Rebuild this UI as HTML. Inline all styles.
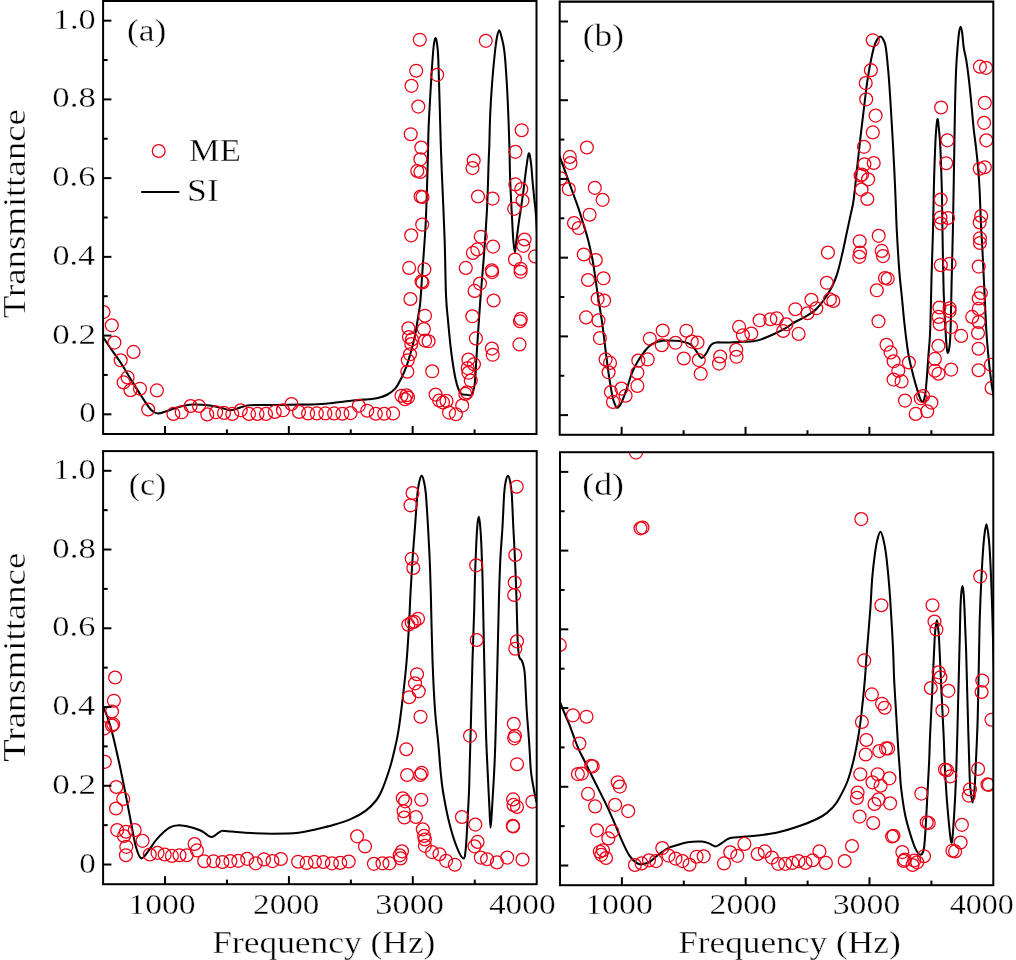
<!DOCTYPE html><html><head><meta charset="utf-8"><title>Transmittance</title><style>html,body{margin:0;padding:0;background:#fff;}svg{display:block;}text{font-family:"Liberation Serif","DejaVu Serif",serif;fill:#000;stroke:#fff;stroke-width:0.35px;}</style></head><body>
<svg width="1016" height="960" viewBox="0 0 1016 960">
<rect x="0" y="0" width="1016" height="960" fill="#fff"/>
<rect x="558.7" y="0" width="435.6" height="1" fill="#999"/>
<defs>
<clipPath id="cpa"><rect x="103.1" y="1" width="433.4" height="433"/></clipPath>
<clipPath id="cpb"><rect x="559.7" y="1.8" width="433.6" height="433"/></clipPath>
<clipPath id="cpc"><rect x="103.1" y="451.1" width="433.6" height="433.1"/></clipPath>
<clipPath id="cpd"><rect x="560" y="452.2" width="433.3" height="433"/></clipPath>
</defs>
<g clip-path="url(#cpa)">
<path d="M103,337C104.17,338.75 107.05,343.22 110,347.5C112.95,351.78 117.12,357.22 120.7,362.7C124.28,368.18 128.07,374.85 131.5,380.4C134.93,385.95 138.02,391.07 141.3,396C144.58,400.93 148.42,407.08 151.2,410C153.98,412.92 155.37,413.33 158,413.5C160.63,413.67 163.55,412.08 167,411C170.45,409.92 174.45,408.07 178.7,407C182.95,405.93 187.28,404.83 192.5,404.6C197.72,404.37 205.08,405.03 210,405.6C214.92,406.17 218.5,407.22 222,408C225.5,408.78 227.72,410.47 231,410.3C234.28,410.13 238.6,407.85 241.7,407C244.8,406.15 244.88,405.53 249.6,405.2C254.32,404.87 263.27,405.08 270,405C276.73,404.92 281.42,404.87 290,404.7C298.58,404.53 311,404.7 321.5,404C332,403.3 345.13,401.3 353,400.5C360.87,399.7 364.53,399.62 368.7,399.2C372.87,398.78 374.85,398.78 378,398C381.15,397.22 384.68,396.13 387.6,394.5C390.52,392.87 393.13,391.08 395.5,388.2C397.87,385.32 399.97,380.88 401.8,377.2C403.63,373.52 404.92,370.57 406.5,366.1C408.08,361.63 409.85,355.65 411.3,350.4C412.75,345.15 414.03,340.38 415.2,334.6C416.37,328.82 417.45,321.13 418.3,315.7C419.15,310.27 419.6,309.58 420.3,302C421,294.42 421.6,283.37 422.5,270.2C423.4,257.03 424.83,240.53 425.7,223C426.57,205.47 427.23,180.47 427.7,165C428.17,149.53 428.1,141.25 428.5,130.2C428.9,119.15 429.52,109.2 430.1,98.7C430.68,88.2 431.42,75.82 432,67.2C432.58,58.58 433.03,51.85 433.6,47C434.17,42.15 434.8,38.43 435.4,38.1C436,37.77 436.72,41.45 437.2,45C437.68,48.55 437.92,50.45 438.3,59.4C438.68,68.35 439.12,85.58 439.5,98.7C439.88,111.82 440.23,126.28 440.6,138.1C440.97,149.92 441.03,152.83 441.7,169.6C442.37,186.37 443.88,217.8 444.6,238.7C445.32,259.6 445.42,281.23 446,295C446.58,308.77 447.22,311.72 448.1,321.3C448.98,330.88 450,342.62 451.3,352.5C452.6,362.38 454.35,373.83 455.9,380.6C457.45,387.37 458.77,390.75 460.6,393.1C462.43,395.45 465.07,394.43 466.9,394.7C468.73,394.97 470.3,396.52 471.6,394.7C472.9,392.88 473.92,389.53 474.7,383.8C475.48,378.07 475.78,368.12 476.3,360.3C476.82,352.48 477.28,344.72 477.8,336.9C478.32,329.08 478.9,320.57 479.4,313.4C479.9,306.23 480.03,303.72 480.8,293.9C481.57,284.08 482.95,268.95 484,254.5C485.05,240.05 486.32,222.95 487.1,207.2C487.88,191.45 488.33,170.2 488.7,160C489.07,149.8 489.05,153.58 489.3,146C489.55,138.42 489.73,125 490.2,114.5C490.67,104 491.3,93.5 492.1,83C492.9,72.5 494.18,59.17 495,51.5C495.82,43.83 496.3,40.55 497,37C497.7,33.45 498.45,30.2 499.2,30.2C499.95,30.2 500.63,33.45 501.5,37C502.37,40.55 503.52,43.83 504.4,51.5C505.28,59.17 506.15,72.5 506.8,83C507.45,93.5 507.87,104 508.3,114.5C508.73,125 509.08,134.98 509.4,146C509.72,157.02 509.73,168.07 510.2,180.6C510.67,193.13 511.68,211.3 512.2,221.2C512.72,231.1 512.85,234.8 513.3,240C513.75,245.2 514.37,252.4 514.9,252.4C515.43,252.4 515.82,245.2 516.5,240C517.18,234.8 517.92,228.83 519,221.2C520.08,213.57 521.77,203.22 523,194.2C524.23,185.18 525.43,173.92 526.4,167.1C527.37,160.28 528.03,153.98 528.8,153.3C529.57,152.62 530.38,158.45 531,163C531.62,167.55 531.92,174.28 532.5,180.6C533.08,186.92 533.93,195.25 534.5,200.9C535.07,206.55 535.4,207.98 535.9,214.5C536.4,221.02 537.23,235.75 537.5,240" fill="none" stroke="#000" stroke-width="2.05" stroke-linejoin="round" stroke-linecap="round"/>
<g fill="none" stroke="#ec0016" stroke-width="1.25">
<circle cx="103.5" cy="312.1" r="6.45"/>
<circle cx="111.8" cy="325.3" r="6.45"/>
<circle cx="114.4" cy="342.6" r="6.45"/>
<circle cx="133.5" cy="351.9" r="6.45"/>
<circle cx="120.7" cy="360.3" r="6.45"/>
<circle cx="127.6" cy="377.4" r="6.45"/>
<circle cx="123.6" cy="382.4" r="6.45"/>
<circle cx="130.5" cy="390.2" r="6.45"/>
<circle cx="140" cy="388.7" r="6.45"/>
<circle cx="156.9" cy="390.4" r="6.45"/>
<circle cx="148.2" cy="409.5" r="6.45"/>
<circle cx="173.4" cy="413.9" r="6.45"/>
<circle cx="181.7" cy="412.3" r="6.45"/>
<circle cx="190.6" cy="406" r="6.45"/>
<circle cx="199" cy="406" r="6.45"/>
<circle cx="207.3" cy="414.4" r="6.45"/>
<circle cx="216.1" cy="412.3" r="6.45"/>
<circle cx="224" cy="412.9" r="6.45"/>
<circle cx="232.3" cy="413.9" r="6.45"/>
<circle cx="240.7" cy="410.3" r="6.45"/>
<circle cx="249" cy="413.9" r="6.45"/>
<circle cx="257.5" cy="413.9" r="6.45"/>
<circle cx="266" cy="413.9" r="6.45"/>
<circle cx="274.8" cy="411.9" r="6.45"/>
<circle cx="283" cy="410.3" r="6.45"/>
<circle cx="291.5" cy="404" r="6.45"/>
<circle cx="299" cy="411.9" r="6.45"/>
<circle cx="308.1" cy="413.4" r="6.45"/>
<circle cx="316.8" cy="413.4" r="6.45"/>
<circle cx="325.4" cy="413.4" r="6.45"/>
<circle cx="334.1" cy="413.4" r="6.45"/>
<circle cx="342.4" cy="413.7" r="6.45"/>
<circle cx="350.6" cy="413.1" r="6.45"/>
<circle cx="358.8" cy="405.8" r="6.45"/>
<circle cx="367.2" cy="410.7" r="6.45"/>
<circle cx="375.8" cy="413.7" r="6.45"/>
<circle cx="384.2" cy="413.7" r="6.45"/>
<circle cx="393.1" cy="413.4" r="6.45"/>
<circle cx="401.5" cy="395.7" r="6.45"/>
<circle cx="406.5" cy="395.3" r="6.45"/>
<circle cx="405" cy="399.2" r="6.45"/>
<circle cx="408" cy="397.5" r="6.45"/>
<circle cx="407.3" cy="371.7" r="6.45"/>
<circle cx="407.8" cy="360.3" r="6.45"/>
<circle cx="410" cy="354.3" r="6.45"/>
<circle cx="411.3" cy="344.1" r="6.45"/>
<circle cx="412" cy="339.4" r="6.45"/>
<circle cx="408.9" cy="337" r="6.45"/>
<circle cx="408.4" cy="328.3" r="6.45"/>
<circle cx="410.4" cy="299" r="6.45"/>
<circle cx="425" cy="315.7" r="6.45"/>
<circle cx="423.9" cy="329.1" r="6.45"/>
<circle cx="425.1" cy="340.6" r="6.45"/>
<circle cx="428.6" cy="341.3" r="6.45"/>
<circle cx="432.2" cy="371.3" r="6.45"/>
<circle cx="435.6" cy="394.6" r="6.45"/>
<circle cx="439.2" cy="400.5" r="6.45"/>
<circle cx="443" cy="402.4" r="6.45"/>
<circle cx="446.5" cy="400.9" r="6.45"/>
<circle cx="449" cy="412.6" r="6.45"/>
<circle cx="455.9" cy="414.2" r="6.45"/>
<circle cx="462.2" cy="405.6" r="6.45"/>
<circle cx="465.3" cy="393.9" r="6.45"/>
<circle cx="466.9" cy="392.3" r="6.45"/>
<circle cx="470.8" cy="380.6" r="6.45"/>
<circle cx="468.4" cy="372.8" r="6.45"/>
<circle cx="467.7" cy="368.1" r="6.45"/>
<circle cx="473.9" cy="364.2" r="6.45"/>
<circle cx="468.4" cy="359.5" r="6.45"/>
<circle cx="475.9" cy="338.4" r="6.45"/>
<circle cx="472.3" cy="316.3" r="6.45"/>
<circle cx="474.6" cy="290.9" r="6.45"/>
<circle cx="493.6" cy="300.5" r="6.45"/>
<circle cx="491.9" cy="348.6" r="6.45"/>
<circle cx="492.7" cy="354.8" r="6.45"/>
<circle cx="520.8" cy="318.9" r="6.45"/>
<circle cx="520" cy="321.2" r="6.45"/>
<circle cx="519.5" cy="344.4" r="6.45"/>
<circle cx="420.4" cy="159.3" r="6.45"/>
<circle cx="417.3" cy="171" r="6.45"/>
<circle cx="420.4" cy="172" r="6.45"/>
<circle cx="420.6" cy="196.5" r="6.45"/>
<circle cx="422.5" cy="197" r="6.45"/>
<circle cx="422.2" cy="224.6" r="6.45"/>
<circle cx="411.2" cy="235.3" r="6.45"/>
<circle cx="409.1" cy="267.9" r="6.45"/>
<circle cx="424.4" cy="269.4" r="6.45"/>
<circle cx="422.5" cy="282.5" r="6.45"/>
<circle cx="421.5" cy="281.5" r="6.45"/>
<circle cx="473.7" cy="160.6" r="6.45"/>
<circle cx="472.5" cy="168.1" r="6.45"/>
<circle cx="478" cy="196.5" r="6.45"/>
<circle cx="492.6" cy="198.6" r="6.45"/>
<circle cx="480.8" cy="236.7" r="6.45"/>
<circle cx="477.3" cy="249.4" r="6.45"/>
<circle cx="472.9" cy="252.9" r="6.45"/>
<circle cx="493.1" cy="246.6" r="6.45"/>
<circle cx="465.8" cy="267.9" r="6.45"/>
<circle cx="491.8" cy="270.2" r="6.45"/>
<circle cx="492.1" cy="272.1" r="6.45"/>
<circle cx="480" cy="283.6" r="6.45"/>
<circle cx="515.4" cy="184.4" r="6.45"/>
<circle cx="521.3" cy="189.1" r="6.45"/>
<circle cx="522.5" cy="200.6" r="6.45"/>
<circle cx="514.2" cy="208.8" r="6.45"/>
<circle cx="524.6" cy="239.5" r="6.45"/>
<circle cx="523.3" cy="245.8" r="6.45"/>
<circle cx="535.1" cy="256.4" r="6.45"/>
<circle cx="515" cy="259.5" r="6.45"/>
<circle cx="520.6" cy="268.7" r="6.45"/>
<circle cx="520.6" cy="271.8" r="6.45"/>
<circle cx="419.8" cy="39.7" r="6.45"/>
<circle cx="416.2" cy="70.7" r="6.45"/>
<circle cx="411.5" cy="85.8" r="6.45"/>
<circle cx="437.2" cy="74.8" r="6.45"/>
<circle cx="418.3" cy="106.6" r="6.45"/>
<circle cx="410.7" cy="134.2" r="6.45"/>
<circle cx="421.3" cy="147.6" r="6.45"/>
<circle cx="485.8" cy="40.8" r="6.45"/>
<circle cx="521.7" cy="130.2" r="6.45"/>
<circle cx="515.4" cy="151.8" r="6.45"/>
</g>
</g>
<g stroke="#000" stroke-width="2" fill="none">
<line x1="103.1" y1="414.32" x2="111.4" y2="414.32"/>
<line x1="103.1" y1="374.95" x2="107.7" y2="374.95"/>
<line x1="103.1" y1="335.59" x2="111.4" y2="335.59"/>
<line x1="103.1" y1="296.23" x2="107.7" y2="296.23"/>
<line x1="103.1" y1="256.86" x2="111.4" y2="256.86"/>
<line x1="103.1" y1="217.5" x2="107.7" y2="217.5"/>
<line x1="103.1" y1="178.14" x2="111.4" y2="178.14"/>
<line x1="103.1" y1="138.77" x2="107.7" y2="138.77"/>
<line x1="103.1" y1="99.41" x2="111.4" y2="99.41"/>
<line x1="103.1" y1="60.05" x2="107.7" y2="60.05"/>
<line x1="103.1" y1="20.68" x2="111.4" y2="20.68"/>
<line x1="165.01" y1="434" x2="165.01" y2="426"/>
<line x1="226.93" y1="434" x2="226.93" y2="429.4"/>
<line x1="288.84" y1="434" x2="288.84" y2="426"/>
<line x1="350.76" y1="434" x2="350.76" y2="429.4"/>
<line x1="412.67" y1="434" x2="412.67" y2="426"/>
<line x1="474.59" y1="434" x2="474.59" y2="429.4"/>
<rect x="103.1" y="1" width="433.4" height="433" stroke-width="2.0"/>
</g>
<g clip-path="url(#cpb)">
<path d="M558.5,153C559.65,156.2 563.22,166.13 565.4,172.2C567.58,178.27 569.52,183.67 571.6,189.4C573.68,195.13 575.95,200.87 577.9,206.6C579.85,212.33 581.62,218.33 583.3,223.8C584.98,229.27 586.52,233.7 588,239.4C589.48,245.1 591.12,252.57 592.2,258C593.28,263.43 593.53,265.58 594.5,272C595.47,278.42 596.72,287.98 598,296.5C599.28,305.02 600.95,314.25 602.2,323.1C603.45,331.95 604.37,340.75 605.5,349.6C606.63,358.45 607.82,368.3 609,376.2C610.18,384.1 611.57,392.17 612.6,397C613.63,401.83 614.47,403.4 615.2,405.2C615.93,407 616.37,407.58 617,407.8C617.63,408.02 618.25,407.35 619,406.5C619.75,405.65 620.2,405.68 621.5,402.7C622.8,399.72 625.03,393.6 626.8,388.6C628.57,383.6 630.33,377.13 632.1,372.7C633.87,368.27 635.33,365.55 637.4,362C639.47,358.45 642.13,354.35 644.5,351.4C646.87,348.45 648.65,346.07 651.6,344.3C654.55,342.53 658.13,341.38 662.2,340.8C666.27,340.22 672.57,340.63 676,340.8C679.43,340.97 680.38,341.2 682.8,341.8C685.22,342.4 688.37,343.02 690.5,344.4C692.63,345.78 693.8,347.87 695.6,350.1C697.4,352.33 699.6,357.15 701.3,357.8C703,358.45 704.18,356.13 705.8,354C707.42,351.87 709.28,346.92 711,345C712.72,343.08 713.33,342.92 716.1,342.5C718.87,342.08 723.33,342.62 727.6,342.5C731.87,342.38 737.43,342.02 741.7,341.8C745.97,341.58 750.22,341.52 753.2,341.2C756.18,340.88 756.4,340.97 759.6,339.9C762.8,338.83 768.13,336.72 772.4,334.8C776.67,332.88 781.43,330.53 785.2,328.4C788.97,326.27 791.95,323.78 795,322C798.05,320.22 799.82,319.98 803.5,317.7C807.18,315.42 812.58,313.03 817.1,308.3C821.62,303.57 827.22,295.17 830.6,289.3C833.98,283.43 835.37,279.42 837.4,273.1C839.43,266.78 841.23,258.17 842.8,251.4C844.37,244.63 845.45,238.82 846.8,232.5C848.15,226.18 849.77,218.92 850.9,213.5C852.03,208.08 852.6,207.27 853.6,200C854.6,192.73 855.73,180.53 856.9,169.9C858.07,159.27 859.35,147.13 860.6,136.2C861.85,125.27 863.15,114.3 864.4,104.3C865.65,94.3 866.55,85.57 868.1,76.2C869.65,66.83 872.13,54.3 873.7,48.1C875.27,41.9 876.33,40.93 877.5,39C878.67,37.07 879.7,36.33 880.7,36.5C881.7,36.67 882.63,38.07 883.5,40C884.37,41.93 885.03,42.07 885.9,48.1C886.77,54.13 887.92,66.83 888.7,76.2C889.48,85.57 889.97,94.3 890.6,104.3C891.23,114.3 891.88,125.27 892.5,136.2C893.12,147.13 893.78,159.28 894.3,169.9C894.82,180.52 895.18,189.78 895.6,199.9C896.02,210.02 896.18,218.72 896.8,230.6C897.42,242.48 898.43,259.92 899.3,271.2C900.17,282.48 901.12,289.33 902,298.3C902.88,307.27 903.55,315.78 904.6,325C905.65,334.22 906.88,345.28 908.3,353.6C909.72,361.92 911.52,368.6 913.1,374.9C914.68,381.2 916.33,386.88 917.8,391.4C919.27,395.92 920.72,401.22 921.9,402C923.08,402.78 924.1,399.83 924.9,396.1C925.7,392.37 926.12,386.28 926.7,379.6C927.28,372.92 927.82,364.27 928.4,356C928.98,347.73 929.65,344.13 930.2,330C930.75,315.87 931.23,287.87 931.7,271.2C932.17,254.53 932.65,243.53 933,230C933.35,216.47 933.53,201.18 933.8,190C934.07,178.82 934.27,172.07 934.6,162.9C934.93,153.73 935.32,142.3 935.8,135C936.28,127.7 936.97,119.93 937.5,119.1C938.03,118.27 938.52,125.13 939,130C939.48,134.87 939.92,137.97 940.4,148.3C940.88,158.63 941.58,180.05 941.9,192C942.22,203.95 942,203.18 942.3,220C942.6,236.82 943.1,273.47 943.7,292.9C944.3,312.33 945.22,326.58 945.9,336.6C946.58,346.62 947.07,353 947.8,353C948.53,353 949.65,349.05 950.3,336.6C950.95,324.15 951.25,296.9 951.7,278.3C952.15,259.7 952.52,249.72 953,225C953.48,200.28 954.22,151.68 954.6,130C954.98,108.32 955.03,105.27 955.3,94.9C955.57,84.53 955.82,75.72 956.2,67.8C956.58,59.88 957.13,53.2 957.6,47.4C958.07,41.6 958.5,36.43 959,33C959.5,29.57 960.07,26.8 960.6,26.8C961.13,26.8 961.68,29.57 962.2,33C962.72,36.43 963,42.73 963.7,47.4C964.4,52.07 965.5,55.35 966.4,61C967.3,66.65 968.2,73.4 969.1,81.3C970,89.2 971.02,100.28 971.8,108.4C972.58,116.52 973.08,123.35 973.8,130C974.52,136.65 975.35,141.62 976.1,148.3C976.85,154.98 977.7,162.82 978.3,170.1C978.9,177.38 979.25,182.85 979.7,192C980.15,201.15 980.55,215.47 981,225C981.45,234.53 981.82,237.88 982.4,249.2C982.98,260.52 983.82,278.93 984.5,292.9C985.18,306.87 985.8,321.9 986.5,333C987.2,344.1 987.95,351.73 988.7,359.5C989.45,367.27 990.28,374.02 991,379.6C991.72,385.18 992.33,388.77 993,393C993.67,397.23 994.67,403 995,405" fill="none" stroke="#000" stroke-width="2.05" stroke-linejoin="round" stroke-linecap="round"/>
<g fill="none" stroke="#ec0016" stroke-width="1.25">
<circle cx="586.9" cy="147.5" r="6.45"/>
<circle cx="569.8" cy="156.9" r="6.45"/>
<circle cx="570.5" cy="163.1" r="6.45"/>
<circle cx="560.7" cy="178.4" r="6.45"/>
<circle cx="568.8" cy="189.1" r="6.45"/>
<circle cx="594.8" cy="187.8" r="6.45"/>
<circle cx="602.6" cy="199.8" r="6.45"/>
<circle cx="589.6" cy="214.7" r="6.45"/>
<circle cx="574" cy="223" r="6.45"/>
<circle cx="578.7" cy="228.1" r="6.45"/>
<circle cx="583.8" cy="254.5" r="6.45"/>
<circle cx="595.8" cy="260" r="6.45"/>
<circle cx="588" cy="280" r="6.45"/>
<circle cx="603.5" cy="278.3" r="6.45"/>
<circle cx="597.6" cy="298.8" r="6.45"/>
<circle cx="604.1" cy="300.6" r="6.45"/>
<circle cx="586.1" cy="317.4" r="6.45"/>
<circle cx="598.5" cy="320.4" r="6.45"/>
<circle cx="599.9" cy="338.1" r="6.45"/>
<circle cx="605.6" cy="359.4" r="6.45"/>
<circle cx="610" cy="362.9" r="6.45"/>
<circle cx="608.6" cy="372.3" r="6.45"/>
<circle cx="610.9" cy="392.1" r="6.45"/>
<circle cx="613" cy="401.9" r="6.45"/>
<circle cx="621.5" cy="388.6" r="6.45"/>
<circle cx="625.6" cy="395.7" r="6.45"/>
<circle cx="637.4" cy="372.7" r="6.45"/>
<circle cx="638.3" cy="360.6" r="6.45"/>
<circle cx="637.4" cy="385.9" r="6.45"/>
<circle cx="647.7" cy="359.4" r="6.45"/>
<circle cx="649.8" cy="338.7" r="6.45"/>
<circle cx="661.8" cy="345.2" r="6.45"/>
<circle cx="662.7" cy="330.5" r="6.45"/>
<circle cx="675.5" cy="342.8" r="6.45"/>
<circle cx="686.4" cy="330.7" r="6.45"/>
<circle cx="691.8" cy="341.6" r="6.45"/>
<circle cx="697.5" cy="342.5" r="6.45"/>
<circle cx="683.8" cy="358.5" r="6.45"/>
<circle cx="698.8" cy="360.1" r="6.45"/>
<circle cx="700.7" cy="373.8" r="6.45"/>
<circle cx="720.2" cy="356.5" r="6.45"/>
<circle cx="719" cy="363.6" r="6.45"/>
<circle cx="739.1" cy="326.9" r="6.45"/>
<circle cx="742.9" cy="335.2" r="6.45"/>
<circle cx="751.3" cy="333.5" r="6.45"/>
<circle cx="736.2" cy="349.8" r="6.45"/>
<circle cx="736.5" cy="356.8" r="6.45"/>
<circle cx="759.6" cy="320.3" r="6.45"/>
<circle cx="770.4" cy="319.2" r="6.45"/>
<circle cx="776.8" cy="318.4" r="6.45"/>
<circle cx="786.4" cy="324.3" r="6.45"/>
<circle cx="783.2" cy="331" r="6.45"/>
<circle cx="795.4" cy="309.2" r="6.45"/>
<circle cx="798.6" cy="333.9" r="6.45"/>
<circle cx="867.3" cy="199" r="6.45"/>
<circle cx="827.9" cy="252.5" r="6.45"/>
<circle cx="826.8" cy="282.8" r="6.45"/>
<circle cx="811.4" cy="299.8" r="6.45"/>
<circle cx="807.6" cy="313.2" r="6.45"/>
<circle cx="816.3" cy="308.3" r="6.45"/>
<circle cx="829.9" cy="299.4" r="6.45"/>
<circle cx="833.3" cy="301" r="6.45"/>
<circle cx="859.7" cy="241.2" r="6.45"/>
<circle cx="860.1" cy="252.5" r="6.45"/>
<circle cx="859.3" cy="256.8" r="6.45"/>
<circle cx="876.8" cy="290.3" r="6.45"/>
<circle cx="878.5" cy="321.3" r="6.45"/>
<circle cx="872.8" cy="40.2" r="6.45"/>
<circle cx="870.9" cy="70.2" r="6.45"/>
<circle cx="865.7" cy="83.1" r="6.45"/>
<circle cx="866.2" cy="99.3" r="6.45"/>
<circle cx="875.6" cy="115.6" r="6.45"/>
<circle cx="872.8" cy="132.4" r="6.45"/>
<circle cx="864" cy="146.8" r="6.45"/>
<circle cx="864.4" cy="164.3" r="6.45"/>
<circle cx="873.7" cy="163" r="6.45"/>
<circle cx="860.6" cy="175.5" r="6.45"/>
<circle cx="862.1" cy="174.6" r="6.45"/>
<circle cx="868.1" cy="179.3" r="6.45"/>
<circle cx="861.5" cy="189.6" r="6.45"/>
<circle cx="878.7" cy="235.8" r="6.45"/>
<circle cx="881.7" cy="250.9" r="6.45"/>
<circle cx="883" cy="256.1" r="6.45"/>
<circle cx="885" cy="278" r="6.45"/>
<circle cx="887.7" cy="278.7" r="6.45"/>
<circle cx="941.1" cy="107.5" r="6.45"/>
<circle cx="947.4" cy="140.3" r="6.45"/>
<circle cx="946.2" cy="163.2" r="6.45"/>
<circle cx="940.7" cy="199.6" r="6.45"/>
<circle cx="940.5" cy="217.5" r="6.45"/>
<circle cx="948" cy="218" r="6.45"/>
<circle cx="941" cy="223.5" r="6.45"/>
<circle cx="979.9" cy="66.7" r="6.45"/>
<circle cx="986" cy="67.8" r="6.45"/>
<circle cx="984.8" cy="102.8" r="6.45"/>
<circle cx="984.1" cy="122.8" r="6.45"/>
<circle cx="986.3" cy="140.3" r="6.45"/>
<circle cx="979.7" cy="168.7" r="6.45"/>
<circle cx="984.8" cy="167.2" r="6.45"/>
<circle cx="981.2" cy="216" r="6.45"/>
<circle cx="979.7" cy="222.5" r="6.45"/>
<circle cx="979.9" cy="238.2" r="6.45"/>
<circle cx="979.9" cy="243" r="6.45"/>
<circle cx="940.8" cy="265.2" r="6.45"/>
<circle cx="949.6" cy="263.7" r="6.45"/>
<circle cx="978.7" cy="266.6" r="6.45"/>
<circle cx="939.4" cy="307.5" r="6.45"/>
<circle cx="949.6" cy="308.2" r="6.45"/>
<circle cx="949.6" cy="311.1" r="6.45"/>
<circle cx="938.6" cy="316.9" r="6.45"/>
<circle cx="939.7" cy="324.2" r="6.45"/>
<circle cx="951" cy="327.1" r="6.45"/>
<circle cx="961.2" cy="335.9" r="6.45"/>
<circle cx="938.4" cy="345.8" r="6.45"/>
<circle cx="980.9" cy="292.9" r="6.45"/>
<circle cx="978.7" cy="298.4" r="6.45"/>
<circle cx="978.7" cy="308.9" r="6.45"/>
<circle cx="972.2" cy="316.9" r="6.45"/>
<circle cx="978.7" cy="322" r="6.45"/>
<circle cx="978" cy="333" r="6.45"/>
<circle cx="978.5" cy="348.7" r="6.45"/>
<circle cx="886.5" cy="344.8" r="6.45"/>
<circle cx="890.6" cy="352.4" r="6.45"/>
<circle cx="893.6" cy="361.3" r="6.45"/>
<circle cx="908.9" cy="362.5" r="6.45"/>
<circle cx="898.3" cy="370.7" r="6.45"/>
<circle cx="893.6" cy="379.6" r="6.45"/>
<circle cx="901.6" cy="381.4" r="6.45"/>
<circle cx="905" cy="400.6" r="6.45"/>
<circle cx="920.7" cy="398.3" r="6.45"/>
<circle cx="923.1" cy="396.1" r="6.45"/>
<circle cx="931.4" cy="402.6" r="6.45"/>
<circle cx="927.2" cy="411.3" r="6.45"/>
<circle cx="915.7" cy="413.9" r="6.45"/>
<circle cx="934.9" cy="358.9" r="6.45"/>
<circle cx="934.9" cy="370.7" r="6.45"/>
<circle cx="938.5" cy="373.7" r="6.45"/>
<circle cx="951.2" cy="369.6" r="6.45"/>
<circle cx="978.6" cy="370.2" r="6.45"/>
<circle cx="991" cy="364.8" r="6.45"/>
<circle cx="991.6" cy="387.9" r="6.45"/>
</g>
</g>
<g stroke="#000" stroke-width="2" fill="none">
<line x1="559.7" y1="415.12" x2="568" y2="415.12"/>
<line x1="559.7" y1="375.75" x2="564.3" y2="375.75"/>
<line x1="559.7" y1="336.39" x2="568" y2="336.39"/>
<line x1="559.7" y1="297.03" x2="564.3" y2="297.03"/>
<line x1="559.7" y1="257.66" x2="568" y2="257.66"/>
<line x1="559.7" y1="218.3" x2="564.3" y2="218.3"/>
<line x1="559.7" y1="178.94" x2="568" y2="178.94"/>
<line x1="559.7" y1="139.57" x2="564.3" y2="139.57"/>
<line x1="559.7" y1="100.21" x2="568" y2="100.21"/>
<line x1="559.7" y1="60.85" x2="564.3" y2="60.85"/>
<line x1="559.7" y1="21.48" x2="568" y2="21.48"/>
<line x1="621.64" y1="434.8" x2="621.64" y2="426.8"/>
<line x1="683.59" y1="434.8" x2="683.59" y2="430.2"/>
<line x1="745.53" y1="434.8" x2="745.53" y2="426.8"/>
<line x1="807.47" y1="434.8" x2="807.47" y2="430.2"/>
<line x1="869.41" y1="434.8" x2="869.41" y2="426.8"/>
<line x1="931.36" y1="434.8" x2="931.36" y2="430.2"/>
<rect x="559.7" y="1.8" width="433.6" height="433" stroke-width="2.0"/>
</g>
<g clip-path="url(#cpc)">
<path d="M102.5,705C103.25,706.83 105.42,711.52 107,716C108.58,720.48 109.97,724.07 112,731.9C114.03,739.73 117.02,753.03 119.2,763C121.38,772.97 123.12,781.72 125.1,791.7C127.08,801.68 129.3,813.72 131.1,822.9C132.9,832.08 134.22,840.9 135.9,846.8C137.58,852.7 139.2,857.5 141.2,858.3C143.2,859.1 145.18,854.92 147.9,851.6C150.62,848.28 153.9,842.38 157.5,838.4C161.1,834.42 165.92,829.88 169.5,827.7C173.08,825.52 175.42,825.37 179,825.3C182.58,825.23 187.4,826.43 191,827.3C194.6,828.17 198.18,829.45 200.6,830.5C203.02,831.55 204.1,832.65 205.5,833.6C206.9,834.55 208,835.63 209,836.2C210,836.77 210.67,837 211.5,837C212.33,837 213,836.78 214,836.2C215,835.62 216.33,834.32 217.5,833.5C218.67,832.68 219.75,831.73 221,831.3C222.25,830.87 220.93,830.65 225,830.9C229.07,831.15 237.57,832.33 245.4,832.8C253.23,833.27 263.13,833.7 272,833.7C280.87,833.7 291.22,833.55 298.6,832.8C305.98,832.05 310.4,830.53 316.3,829.2C322.2,827.87 328.1,826.57 334,824.8C339.9,823.03 346.38,820.97 351.7,818.6C357.02,816.23 361.77,813.7 365.9,810.6C370.03,807.5 373.82,803.43 376.5,800C379.18,796.57 379.88,795 382,790C384.12,785 387.32,775.83 389.2,770C391.08,764.17 391.78,761.38 393.3,755C394.82,748.62 396.63,741.98 398.3,731.7C399.97,721.42 401.9,705.25 403.3,693.3C404.7,681.35 405.75,671.38 406.7,660C407.65,648.62 408.37,636.12 409,625C409.63,613.88 409.92,604.13 410.5,593.3C411.08,582.47 411.75,571.1 412.5,560C413.25,548.9 414.17,537.82 415,526.7C415.83,515.58 416.75,500.92 417.5,493.3C418.25,485.68 418.8,483.92 419.5,481C420.2,478.08 420.98,475.8 421.7,475.8C422.42,475.8 423.12,478.08 423.8,481C424.48,483.92 425.1,485.68 425.8,493.3C426.5,500.92 427.35,515.58 428,526.7C428.65,537.82 429.23,548.9 429.7,560C430.17,571.1 430.33,576.63 430.8,593.3C431.27,609.97 431.8,640.55 432.5,660C433.2,679.45 434.03,696.12 435,710C435.97,723.88 437.38,733.3 438.3,743.3C439.22,753.3 439.72,761.97 440.5,770C441.28,778.03 441.53,782.67 443,791.5C444.47,800.33 446.93,813.55 449.3,823C451.67,832.45 454.83,842.3 457.2,848.2C459.57,854.1 462.07,858.4 463.5,858.4C464.93,858.4 465.15,854.1 465.8,848.2C466.45,842.3 466.87,832.45 467.4,823C467.93,813.55 468.63,800.33 469,791.5C469.37,782.67 469.3,780.8 469.6,770C469.9,759.2 470.32,745.03 470.8,726.7C471.28,708.37 471.93,679.45 472.5,660C473.07,640.55 473.78,623.88 474.2,610C474.62,596.12 474.65,587.82 475,576.7C475.35,565.58 475.88,552.08 476.3,543.3C476.72,534.52 477.08,528.43 477.5,524C477.92,519.57 478.38,516.7 478.8,516.7C479.22,516.7 479.58,519.57 480,524C480.42,528.43 480.88,534.52 481.3,543.3C481.72,552.08 482.17,564.75 482.5,576.7C482.83,588.65 483.02,601.12 483.3,615C483.58,628.88 483.78,641.38 484.2,660C484.62,678.62 485.32,710.03 485.8,726.7C486.28,743.37 486.5,746.58 487.1,760C487.7,773.42 488.82,795.92 489.4,807.2C489.98,818.48 490.15,827.7 490.6,827.7C491.05,827.7 491.45,817.65 492.1,807.2C492.75,796.75 493.88,778.42 494.5,765C495.12,751.58 495.3,744.2 495.8,726.7C496.3,709.2 496.98,681.12 497.5,660C498.02,638.88 498.43,616.67 498.9,600C499.37,583.33 499.7,572.22 500.3,560C500.9,547.78 501.85,537.82 502.5,526.7C503.15,515.58 503.65,500.92 504.2,493.3C504.75,485.68 505.17,483.92 505.8,481C506.43,478.08 507.3,475.8 508,475.8C508.7,475.8 509.38,478.08 510,481C510.62,483.92 511.15,485.68 511.7,493.3C512.25,500.92 512.75,515.58 513.3,526.7C513.85,537.82 514.5,548.9 515,560C515.5,571.1 515.93,582.47 516.3,593.3C516.67,604.13 516.95,616.67 517.2,625C517.45,633.33 517.47,638.02 517.8,643.3C518.13,648.58 518.5,653.75 519.2,656.7C519.9,659.65 521.23,659.28 522,661C522.77,662.72 523.3,664.38 523.8,667C524.3,669.62 524.52,669.53 525,676.7C525.48,683.87 526,698.9 526.7,710C527.4,721.1 528.52,733.3 529.2,743.3C529.88,753.3 530.2,763.28 530.8,770C531.4,776.72 531.95,778.7 532.8,783.6C533.65,788.5 535.03,795.67 535.9,799.4C536.77,803.13 537.65,804.9 538,806" fill="none" stroke="#000" stroke-width="2.05" stroke-linejoin="round" stroke-linecap="round"/>
<g fill="none" stroke="#ec0016" stroke-width="1.25">
<circle cx="115.1" cy="677.5" r="6.45"/>
<circle cx="113.9" cy="700.7" r="6.45"/>
<circle cx="112" cy="711.5" r="6.45"/>
<circle cx="113.2" cy="724.2" r="6.45"/>
<circle cx="112" cy="725.5" r="6.45"/>
<circle cx="104.3" cy="728.3" r="6.45"/>
<circle cx="104.8" cy="761.8" r="6.45"/>
<circle cx="116.3" cy="787" r="6.45"/>
<circle cx="123.2" cy="798.9" r="6.45"/>
<circle cx="116" cy="808.5" r="6.45"/>
<circle cx="117.2" cy="830.1" r="6.45"/>
<circle cx="125.9" cy="831.7" r="6.45"/>
<circle cx="124" cy="836" r="6.45"/>
<circle cx="134.7" cy="830.1" r="6.45"/>
<circle cx="126.3" cy="846.8" r="6.45"/>
<circle cx="125.9" cy="855.2" r="6.45"/>
<circle cx="142.6" cy="840.8" r="6.45"/>
<circle cx="149.8" cy="854.5" r="6.45"/>
<circle cx="157.5" cy="852.8" r="6.45"/>
<circle cx="164.7" cy="854.5" r="6.45"/>
<circle cx="171.9" cy="855.9" r="6.45"/>
<circle cx="179.5" cy="855.2" r="6.45"/>
<circle cx="186.7" cy="855.2" r="6.45"/>
<circle cx="194.6" cy="844" r="6.45"/>
<circle cx="197" cy="850.4" r="6.45"/>
<circle cx="204.2" cy="861.2" r="6.45"/>
<circle cx="213.5" cy="861.2" r="6.45"/>
<circle cx="222.4" cy="862" r="6.45"/>
<circle cx="230.4" cy="861.1" r="6.45"/>
<circle cx="238.3" cy="860.8" r="6.45"/>
<circle cx="247.2" cy="858.8" r="6.45"/>
<circle cx="255.7" cy="863.3" r="6.45"/>
<circle cx="264" cy="859.4" r="6.45"/>
<circle cx="272.5" cy="861.1" r="6.45"/>
<circle cx="280.9" cy="859" r="6.45"/>
<circle cx="298.1" cy="861.7" r="6.45"/>
<circle cx="306.6" cy="862.9" r="6.45"/>
<circle cx="314.9" cy="861.7" r="6.45"/>
<circle cx="323.4" cy="862" r="6.45"/>
<circle cx="331.9" cy="863.3" r="6.45"/>
<circle cx="340.2" cy="862.9" r="6.45"/>
<circle cx="348.7" cy="861.5" r="6.45"/>
<circle cx="357.1" cy="836.3" r="6.45"/>
<circle cx="365" cy="846.4" r="6.45"/>
<circle cx="373.9" cy="863.8" r="6.45"/>
<circle cx="382.5" cy="863.3" r="6.45"/>
<circle cx="389.5" cy="863.3" r="6.45"/>
<circle cx="399.7" cy="855.3" r="6.45"/>
<circle cx="402" cy="851.3" r="6.45"/>
<circle cx="400.5" cy="858.4" r="6.45"/>
<circle cx="407.1" cy="775" r="6.45"/>
<circle cx="420.2" cy="775" r="6.45"/>
<circle cx="421.7" cy="772.9" r="6.45"/>
<circle cx="402.8" cy="798.3" r="6.45"/>
<circle cx="405.2" cy="801.3" r="6.45"/>
<circle cx="421.3" cy="799.7" r="6.45"/>
<circle cx="403.6" cy="811.2" r="6.45"/>
<circle cx="404.4" cy="817.5" r="6.45"/>
<circle cx="415.9" cy="817" r="6.45"/>
<circle cx="422.8" cy="829.3" r="6.45"/>
<circle cx="424.1" cy="835.9" r="6.45"/>
<circle cx="424.9" cy="839.5" r="6.45"/>
<circle cx="424.9" cy="845.8" r="6.45"/>
<circle cx="432" cy="852.1" r="6.45"/>
<circle cx="439.5" cy="854.2" r="6.45"/>
<circle cx="446.1" cy="860.8" r="6.45"/>
<circle cx="454.8" cy="864.7" r="6.45"/>
<circle cx="461.9" cy="817" r="6.45"/>
<circle cx="475.3" cy="824.6" r="6.45"/>
<circle cx="477.6" cy="841.9" r="6.45"/>
<circle cx="474.5" cy="846.3" r="6.45"/>
<circle cx="480.8" cy="857.6" r="6.45"/>
<circle cx="487.1" cy="859.2" r="6.45"/>
<circle cx="496.9" cy="862.4" r="6.45"/>
<circle cx="507.2" cy="857.6" r="6.45"/>
<circle cx="522.5" cy="859.5" r="6.45"/>
<circle cx="517" cy="764.2" r="6.45"/>
<circle cx="513.1" cy="799.4" r="6.45"/>
<circle cx="513.5" cy="804.9" r="6.45"/>
<circle cx="517" cy="806.9" r="6.45"/>
<circle cx="532.4" cy="801.7" r="6.45"/>
<circle cx="512.8" cy="825.8" r="6.45"/>
<circle cx="513.2" cy="826.5" r="6.45"/>
<circle cx="412.5" cy="493" r="6.45"/>
<circle cx="410.5" cy="505.3" r="6.45"/>
<circle cx="411.7" cy="558.7" r="6.45"/>
<circle cx="413.3" cy="568" r="6.45"/>
<circle cx="516.7" cy="486.7" r="6.45"/>
<circle cx="515.3" cy="555" r="6.45"/>
<circle cx="514.7" cy="582.5" r="6.45"/>
<circle cx="514.2" cy="595" r="6.45"/>
<circle cx="476.2" cy="565.3" r="6.45"/>
<circle cx="408.3" cy="624.7" r="6.45"/>
<circle cx="411.7" cy="622.5" r="6.45"/>
<circle cx="418" cy="618.7" r="6.45"/>
<circle cx="414.2" cy="621.7" r="6.45"/>
<circle cx="417" cy="674.2" r="6.45"/>
<circle cx="415" cy="683.3" r="6.45"/>
<circle cx="418.7" cy="691.3" r="6.45"/>
<circle cx="409.2" cy="697.2" r="6.45"/>
<circle cx="420.5" cy="716.7" r="6.45"/>
<circle cx="406.3" cy="749.2" r="6.45"/>
<circle cx="476.7" cy="640" r="6.45"/>
<circle cx="470" cy="735.8" r="6.45"/>
<circle cx="517" cy="641.3" r="6.45"/>
<circle cx="515.3" cy="648.7" r="6.45"/>
<circle cx="513.8" cy="723.8" r="6.45"/>
<circle cx="515" cy="735.8" r="6.45"/>
<circle cx="514.2" cy="738.3" r="6.45"/>
</g>
</g>
<g stroke="#000" stroke-width="2" fill="none">
<line x1="103.1" y1="864.51" x2="111.4" y2="864.51"/>
<line x1="103.1" y1="825.14" x2="107.7" y2="825.14"/>
<line x1="103.1" y1="785.77" x2="111.4" y2="785.77"/>
<line x1="103.1" y1="746.4" x2="107.7" y2="746.4"/>
<line x1="103.1" y1="707.02" x2="111.4" y2="707.02"/>
<line x1="103.1" y1="667.65" x2="107.7" y2="667.65"/>
<line x1="103.1" y1="628.28" x2="111.4" y2="628.28"/>
<line x1="103.1" y1="588.9" x2="107.7" y2="588.9"/>
<line x1="103.1" y1="549.53" x2="111.4" y2="549.53"/>
<line x1="103.1" y1="510.16" x2="107.7" y2="510.16"/>
<line x1="103.1" y1="470.79" x2="111.4" y2="470.79"/>
<line x1="165.04" y1="884.2" x2="165.04" y2="876.2"/>
<line x1="226.99" y1="884.2" x2="226.99" y2="879.6"/>
<line x1="288.93" y1="884.2" x2="288.93" y2="876.2"/>
<line x1="350.87" y1="884.2" x2="350.87" y2="879.6"/>
<line x1="412.81" y1="884.2" x2="412.81" y2="876.2"/>
<line x1="474.76" y1="884.2" x2="474.76" y2="879.6"/>
<rect x="103.1" y="451.1" width="433.6" height="433.1" stroke-width="2.0"/>
</g>
<g clip-path="url(#cpd)">
<path d="M559,699.5C559.83,701.58 562.25,707.78 564,712C565.75,716.22 567.67,720.13 569.5,724.8C571.33,729.47 573.35,735.65 575,740C576.65,744.35 577.9,747.57 579.4,750.9C580.9,754.23 582.68,757.38 584,760C585.32,762.62 585.2,762.38 587.3,766.6C589.4,770.82 593.48,779.05 596.6,785.3C599.72,791.55 603.13,798.1 606,804.1C608.87,810.1 611.2,815.32 613.8,821.3C616.4,827.28 619,834.28 621.6,840C624.2,845.72 626.78,851.7 629.4,855.6C632.02,859.5 635.2,861.97 637.3,863.4C639.4,864.83 639.92,864.45 642,864.2C644.08,863.95 646.95,863.58 649.8,861.9C652.65,860.22 655.98,856.45 659.1,854.1C662.22,851.75 665.68,849.23 668.5,847.8C671.32,846.37 672.8,846.43 676,845.5C679.2,844.57 683.38,842.85 687.7,842.2C692.02,841.55 698.35,841.4 701.9,841.6C705.45,841.8 706.7,842.6 709,843.4C711.3,844.2 713.63,846.4 715.7,846.4C717.77,846.4 718.98,844.78 721.4,843.4C723.82,842.02 725.48,839.28 730.2,838.1C734.92,836.92 742.02,837.18 749.7,836.3C757.38,835.42 767.43,834.72 776.3,832.8C785.17,830.88 795.22,827.6 802.9,824.8C810.58,822 817.38,818.95 822.4,816C827.42,813.05 830.37,809.77 833,807.1C835.63,804.43 835.78,804.31 838.2,800C840.62,795.69 844.91,788.02 847.5,781.25C850.09,774.48 851.93,766.96 853.75,759.4C855.57,751.84 857.09,743.72 858.4,735.9C859.71,728.08 860.55,721.6 861.6,712.5C862.65,703.4 863.8,691.72 864.7,681.3C865.6,670.88 866.07,661.98 867,650C867.93,638.02 869.43,621.38 870.3,609.4C871.17,597.42 871.45,587.22 872.2,578.1C872.95,568.98 873.95,561.05 874.8,554.7C875.65,548.35 876.35,543.82 877.3,540C878.25,536.18 879.47,531.8 880.5,531.8C881.53,531.8 882.57,536.18 883.5,540C884.43,543.82 885.15,547.05 886.1,554.7C887.05,562.35 888.33,575.48 889.2,585.9C890.07,596.32 890.65,606.52 891.3,617.2C891.95,627.88 892.62,639.43 893.1,650C893.58,660.57 893.68,669.85 894.2,680.6C894.72,691.35 895.53,703.2 896.2,714.5C896.87,725.8 897.6,739.15 898.2,748.4C898.8,757.65 899.33,763.55 899.8,770C900.27,776.45 900.13,779.73 901,787.1C901.87,794.47 903.43,806.3 905,814.2C906.57,822.1 908.6,828.63 910.4,834.5C912.2,840.37 914.1,846.02 915.8,849.4C917.5,852.78 919.23,855.03 920.6,854.8C921.97,854.57 923.1,853.63 924,848C924.9,842.37 925.37,831.15 926,821C926.63,810.85 927.27,797.27 927.8,787.1C928.33,776.93 928.82,768.72 929.2,760C929.58,751.28 929.62,745.77 930.1,734.8C930.58,723.83 931.35,710 932.1,694.2C932.85,678.4 934,651.2 934.6,640C935.2,628.8 935.32,630.28 935.7,627C936.08,623.72 936.52,620.3 936.9,620.3C937.28,620.3 937.63,623.72 938,627C938.37,630.28 938.5,628.8 939.1,640C939.7,651.2 940.85,678.4 941.6,694.2C942.35,710 943.03,722.17 943.6,734.8C944.17,747.43 944.35,757.88 945,770C945.65,782.12 946.45,795.42 947.5,807.5C948.55,819.58 950.25,840.42 951.3,842.5C952.35,844.58 952.97,832.08 953.8,820C954.63,807.92 955.58,789.58 956.3,770C957.02,750.42 957.53,724.17 958.1,702.5C958.67,680.83 959.32,655.52 959.7,640C960.08,624.48 960.13,617.23 960.4,609.4C960.67,601.57 960.95,596.92 961.3,593C961.65,589.08 962.12,585.9 962.5,585.9C962.88,585.9 963.27,589.08 963.6,593C963.93,596.92 964.08,599.9 964.5,609.4C964.92,618.9 965.6,634.48 966.1,650C966.6,665.52 966.92,681.67 967.5,702.5C968.08,723.33 969.08,760.42 969.6,775C970.12,789.58 970.12,785.42 970.6,790C971.08,794.58 971.85,802.5 972.5,802.5C973.15,802.5 973.92,797.08 974.5,790C975.08,782.92 975.47,771.98 976,760C976.53,748.02 977.18,736.43 977.7,718.1C978.22,699.77 978.75,666.82 979.1,650C979.45,633.18 979.42,629.18 979.8,617.2C980.18,605.22 980.82,589.82 981.4,578.1C981.98,566.38 982.73,554.58 983.3,546.9C983.87,539.22 984.28,535.78 984.8,532C985.32,528.22 985.87,524.2 986.4,524.2C986.93,524.2 987.48,528.22 988,532C988.52,535.78 988.98,539.22 989.5,546.9C990.02,554.58 990.65,567.68 991.1,578.1C991.55,588.52 991.83,597.42 992.2,609.4C992.57,621.38 992.92,636.57 993.3,650C993.68,663.43 994.3,683.33 994.5,690" fill="none" stroke="#000" stroke-width="2.05" stroke-linejoin="round" stroke-linecap="round"/>
<g fill="none" stroke="#ec0016" stroke-width="1.25">
<circle cx="636" cy="452.6" r="6.45"/>
<circle cx="640.5" cy="528.3" r="6.45"/>
<circle cx="642.5" cy="527.6" r="6.45"/>
<circle cx="559.8" cy="644.9" r="6.45"/>
<circle cx="572.9" cy="715.3" r="6.45"/>
<circle cx="586.5" cy="716.7" r="6.45"/>
<circle cx="579.4" cy="743.5" r="6.45"/>
<circle cx="591.2" cy="765.8" r="6.45"/>
<circle cx="592.7" cy="766.3" r="6.45"/>
<circle cx="577.9" cy="774.1" r="6.45"/>
<circle cx="581.8" cy="773.6" r="6.45"/>
<circle cx="617.7" cy="782.2" r="6.45"/>
<circle cx="619.8" cy="786.6" r="6.45"/>
<circle cx="588" cy="793.9" r="6.45"/>
<circle cx="595.1" cy="806.4" r="6.45"/>
<circle cx="615.1" cy="804.8" r="6.45"/>
<circle cx="628.2" cy="811.1" r="6.45"/>
<circle cx="597" cy="830.3" r="6.45"/>
<circle cx="612.3" cy="831.4" r="6.45"/>
<circle cx="608.3" cy="838.4" r="6.45"/>
<circle cx="599.8" cy="851.7" r="6.45"/>
<circle cx="602.9" cy="850.2" r="6.45"/>
<circle cx="606" cy="858" r="6.45"/>
<circle cx="601.3" cy="854.8" r="6.45"/>
<circle cx="634.9" cy="865" r="6.45"/>
<circle cx="641.6" cy="863.4" r="6.45"/>
<circle cx="649" cy="860.3" r="6.45"/>
<circle cx="656" cy="861.1" r="6.45"/>
<circle cx="662.3" cy="848.1" r="6.45"/>
<circle cx="668.5" cy="855.6" r="6.45"/>
<circle cx="675.5" cy="858.6" r="6.45"/>
<circle cx="682.4" cy="861.1" r="6.45"/>
<circle cx="689.5" cy="864.7" r="6.45"/>
<circle cx="696.6" cy="856.7" r="6.45"/>
<circle cx="703.7" cy="856.3" r="6.45"/>
<circle cx="724" cy="863.4" r="6.45"/>
<circle cx="730.2" cy="852.3" r="6.45"/>
<circle cx="737.3" cy="855.8" r="6.45"/>
<circle cx="744.4" cy="843.9" r="6.45"/>
<circle cx="757.7" cy="854" r="6.45"/>
<circle cx="764.8" cy="851.4" r="6.45"/>
<circle cx="771.9" cy="857.6" r="6.45"/>
<circle cx="778.1" cy="863.8" r="6.45"/>
<circle cx="785.2" cy="863.8" r="6.45"/>
<circle cx="792.3" cy="862.9" r="6.45"/>
<circle cx="798.5" cy="861.1" r="6.45"/>
<circle cx="805.5" cy="862.9" r="6.45"/>
<circle cx="812.6" cy="860.2" r="6.45"/>
<circle cx="819.4" cy="851.4" r="6.45"/>
<circle cx="825.9" cy="862.9" r="6.45"/>
<circle cx="844.7" cy="861" r="6.45"/>
<circle cx="852" cy="846" r="6.45"/>
<circle cx="860.3" cy="774.2" r="6.45"/>
<circle cx="877.7" cy="774.2" r="6.45"/>
<circle cx="872.5" cy="782.3" r="6.45"/>
<circle cx="880.6" cy="785.7" r="6.45"/>
<circle cx="889.4" cy="778.3" r="6.45"/>
<circle cx="857.6" cy="792.5" r="6.45"/>
<circle cx="856.9" cy="797.9" r="6.45"/>
<circle cx="878.6" cy="799.3" r="6.45"/>
<circle cx="874.5" cy="804" r="6.45"/>
<circle cx="890.1" cy="803.3" r="6.45"/>
<circle cx="859.6" cy="816.6" r="6.45"/>
<circle cx="873.2" cy="823" r="6.45"/>
<circle cx="892.1" cy="836.5" r="6.45"/>
<circle cx="893.5" cy="835.8" r="6.45"/>
<circle cx="921.3" cy="793.6" r="6.45"/>
<circle cx="926.7" cy="822.3" r="6.45"/>
<circle cx="928.7" cy="823" r="6.45"/>
<circle cx="902.3" cy="852.1" r="6.45"/>
<circle cx="904.7" cy="859.6" r="6.45"/>
<circle cx="903.7" cy="860.9" r="6.45"/>
<circle cx="912.5" cy="865" r="6.45"/>
<circle cx="917.2" cy="862.3" r="6.45"/>
<circle cx="924" cy="856.2" r="6.45"/>
<circle cx="914.2" cy="860.5" r="6.45"/>
<circle cx="945" cy="769.5" r="6.45"/>
<circle cx="947" cy="770.2" r="6.45"/>
<circle cx="950.4" cy="776.3" r="6.45"/>
<circle cx="952.4" cy="850.7" r="6.45"/>
<circle cx="955.1" cy="851.4" r="6.45"/>
<circle cx="961.9" cy="824.8" r="6.45"/>
<circle cx="960.6" cy="842.5" r="6.45"/>
<circle cx="970" cy="789.4" r="6.45"/>
<circle cx="968.8" cy="795.6" r="6.45"/>
<circle cx="978.1" cy="769" r="6.45"/>
<circle cx="987.5" cy="784.4" r="6.45"/>
<circle cx="988.8" cy="784.8" r="6.45"/>
<circle cx="864.2" cy="660.4" r="6.45"/>
<circle cx="871.8" cy="694.4" r="6.45"/>
<circle cx="882" cy="703.7" r="6.45"/>
<circle cx="884.7" cy="707.7" r="6.45"/>
<circle cx="861.9" cy="721.9" r="6.45"/>
<circle cx="866.4" cy="740" r="6.45"/>
<circle cx="865.7" cy="754.5" r="6.45"/>
<circle cx="879.3" cy="751.1" r="6.45"/>
<circle cx="886" cy="748.4" r="6.45"/>
<circle cx="888.1" cy="748.4" r="6.45"/>
<circle cx="938.6" cy="672.3" r="6.45"/>
<circle cx="940.4" cy="677.3" r="6.45"/>
<circle cx="930.8" cy="688" r="6.45"/>
<circle cx="948.4" cy="690.8" r="6.45"/>
<circle cx="942.4" cy="710.5" r="6.45"/>
<circle cx="982.3" cy="680.6" r="6.45"/>
<circle cx="981.6" cy="692" r="6.45"/>
<circle cx="991.5" cy="719.7" r="6.45"/>
<circle cx="861.3" cy="519.1" r="6.45"/>
<circle cx="881.4" cy="605.2" r="6.45"/>
<circle cx="932.5" cy="605.2" r="6.45"/>
<circle cx="934.5" cy="621.6" r="6.45"/>
<circle cx="936.4" cy="629.4" r="6.45"/>
<circle cx="980.2" cy="576.6" r="6.45"/>
</g>
</g>
<g stroke="#000" stroke-width="2" fill="none">
<line x1="560" y1="865.52" x2="568.3" y2="865.52"/>
<line x1="560" y1="826.15" x2="564.6" y2="826.15"/>
<line x1="560" y1="786.79" x2="568.3" y2="786.79"/>
<line x1="560" y1="747.43" x2="564.6" y2="747.43"/>
<line x1="560" y1="708.06" x2="568.3" y2="708.06"/>
<line x1="560" y1="668.7" x2="564.6" y2="668.7"/>
<line x1="560" y1="629.34" x2="568.3" y2="629.34"/>
<line x1="560" y1="589.97" x2="564.6" y2="589.97"/>
<line x1="560" y1="550.61" x2="568.3" y2="550.61"/>
<line x1="560" y1="511.25" x2="564.6" y2="511.25"/>
<line x1="560" y1="471.88" x2="568.3" y2="471.88"/>
<line x1="621.9" y1="885.2" x2="621.9" y2="877.2"/>
<line x1="683.8" y1="885.2" x2="683.8" y2="880.6"/>
<line x1="745.7" y1="885.2" x2="745.7" y2="877.2"/>
<line x1="807.6" y1="885.2" x2="807.6" y2="880.6"/>
<line x1="869.5" y1="885.2" x2="869.5" y2="877.2"/>
<line x1="931.4" y1="885.2" x2="931.4" y2="880.6"/>
<rect x="560" y="452.2" width="433.3" height="433" stroke-width="2.0"/>
</g>
<text transform="translate(52.75,28.68) scale(1.1473,1)" font-size="30.0">1.0</text>
<text transform="translate(52.36,107.41) scale(1.1581,1)" font-size="30.0">0.8</text>
<text transform="translate(52.37,186.14) scale(1.1483,1)" font-size="30.0">0.6</text>
<text transform="translate(52.38,264.86) scale(1.1387,1)" font-size="30.0">0.4</text>
<text transform="translate(52.35,343.59) scale(1.1681,1)" font-size="30.0">0.2</text>
<text transform="translate(79.18,422.32) scale(1.1032,1)" font-size="30.0">0</text>
<text transform="translate(52.75,478.79) scale(1.1473,1)" font-size="30.0">1.0</text>
<text transform="translate(52.36,557.53) scale(1.1581,1)" font-size="30.0">0.8</text>
<text transform="translate(52.37,636.28) scale(1.1483,1)" font-size="30.0">0.6</text>
<text transform="translate(52.38,715.02) scale(1.1387,1)" font-size="30.0">0.4</text>
<text transform="translate(52.35,793.77) scale(1.1681,1)" font-size="30.0">0.2</text>
<text transform="translate(79.18,872.51) scale(1.1032,1)" font-size="30.0">0</text>
<text transform="translate(128.37,914.1) scale(1.1230,1)" font-size="30.0">1000</text>
<text transform="translate(253.08,914.1) scale(1.1042,1)" font-size="30.0">2000</text>
<text transform="translate(375.28,914.1) scale(1.1466,1)" font-size="30.0">3000</text>
<text transform="translate(488.93,914.1) scale(1.1117,1)" font-size="30.0">4000</text>
<text transform="translate(585.15,914.1) scale(1.1283,1)" font-size="30.0">1000</text>
<text transform="translate(709.55,914.1) scale(1.1233,1)" font-size="30.0">2000</text>
<text transform="translate(832.71,914.1) scale(1.1274,1)" font-size="30.0">3000</text>
<text transform="translate(949.76,914.1) scale(1.0687,1)" font-size="30.0">4000</text>
<text transform="translate(212.24,952.9) scale(1.1428,1)" font-size="31.0">Frequency (Hz)</text>
<text transform="translate(678.14,952.9) scale(1.1396,1)" font-size="31.0">Frequency (Hz)</text>
<text transform="translate(24.8,318.24) rotate(-90) scale(1.1878,1)" font-size="31.0">Transmittance</text>
<text transform="translate(24.6,761.74) rotate(-90) scale(1.1860,1)" font-size="31.0">Transmittance</text>
<text transform="translate(126.98,41.4) scale(1.1463,1)" font-size="31.0">(a)</text>
<text transform="translate(582.79,46.4) scale(1.1410,1)" font-size="31.0">(b)</text>
<text transform="translate(128.64,494.8) scale(1.0961,1)" font-size="31.0">(c)</text>
<text transform="translate(582.37,495.4) scale(1.1499,1)" font-size="31.0">(d)</text>
<circle cx="158.7" cy="151" r="6.45" fill="none" stroke="#ec0016" stroke-width="1.25"/>
<line x1="141.9" y1="191.9" x2="178.6" y2="191.9" stroke="#000" stroke-width="2.0" stroke-linecap="round"/>
<text transform="translate(188.96,160.9) scale(1.1177,1)" font-size="31.0">ME</text>
<text transform="translate(187.11,200.6) scale(1.1497,1)" font-size="31.0">SI</text>
</svg></body></html>
